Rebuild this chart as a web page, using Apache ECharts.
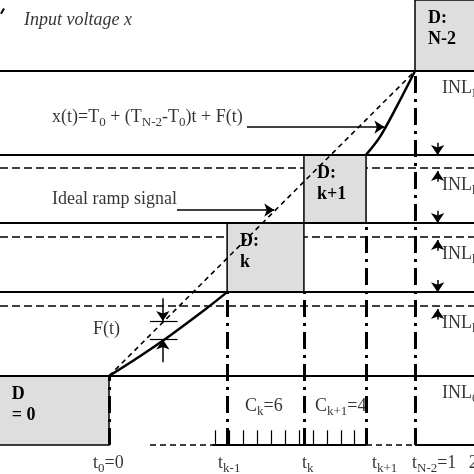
<!DOCTYPE html>
<html>
<head>
<meta charset="utf-8">
<script src="https://cdn.jsdelivr.net/npm/echarts@6/dist/echarts.min.js"></script>
<style>
html, body { margin: 0; padding: 0; background: #fff; }
#chart { width: 474px; height: 474px; }
</style>
</head>
<body>
<div id="chart"></div>
<script>
// time: t0 = 0 ... tN-2 = 1 ; voltage: T0 = 0 ... TN-2 = 1
var eventTimes = [0, 0.386, 0.637, 0.84, 1];
var eventLabels = ['t{s|0}=0', 't{s|k-1}', 't{s|k}', 't{s|k+1}', 't{s|N-2}=1'];
var eventTop = [0, 0.275, 0.275, 0.502, 1];
var thresholds = [0, 0.275, 0.502, 0.725, 1];
var idealLevels = [0.23, 0.456, 0.682];
var tickTimes = [0.346, 0.392, 0.438, 0.484, 0.529, 0.575, 0.621, 0.667, 0.712, 0.758, 0.801];
var rampLow = [[0, 0], [0.1, 0.064], [0.2, 0.133], [0.3, 0.207], [0.386, 0.275]];
var rampHigh = [[0.84, 0.725], [0.886, 0.785], [0.94, 0.883], [1, 1]];
var idealRamp = [[0, 0], [1, 1]];
var codeNames = ['D\n= 0', 'D:\nk', 'D:\nk+1', 'D:\nN-2'];
var codeStart = [-0.36, 0.386, 0.637, 1];
var codeEnd = [0, 0.637, 0.84, 1.25];
var codeLow = [-0.226, 0.275, 0.502, 1];
var codeHigh = [0, 0.502, 0.725, 1.233];
var inlNames = ['INL{s|N-2}', 'INL{s|k+1}', 'INL{s|k}', 'INL{s|k-1}', 'INL{s|0}'];
var fMark = [0.176, 0.18, 0.12]; // t, ideal, actual

// view range (whole picture is the plot area)
var X0 = -0.3562, X1 = 1.1928, Y0 = -0.3213, Y1 = 1.2328;
var base = -0.226;
var serif = '"Liberation Serif", "DejaVu Serif", serif';

function seg(a, b) { return { coords: [a, b] }; }

function linesSeries(data, style, z, extra) {
    var s = {
        type: 'lines', coordinateSystem: 'cartesian2d', silent: true, z: z, data: data,
        lineStyle: Object.assign({ color: '#000', width: 2, opacity: 1, type: 'solid', curveness: 0 }, style)
    };
    return Object.assign(s, extra || {});
}

var rich = {
    s: { fontSize: 13, fontFamily: serif, color: '#000', verticalAlign: 'bottom', lineHeight: 24 }
};

function textSeries(items, z) {
    return {
        type: 'scatter', symbolSize: 0, silent: true, z: z, data: items,
        label: {
            show: true, position: 'right', distance: 0, color: '#000',
            fontFamily: serif, fontSize: 18, lineHeight: 20,
            formatter: function (p) { return p.name; }, rich: rich
        }
    };
}

// free notes, placed in chart units
var notes = [
    { name: 'Input voltage x', value: [-0.278, 1.167], label: { fontStyle: 'italic' } },
    { name: 'x(t)=T{s|0} + (T{s|N-2}-T{s|0})t + F(t)', value: [-0.186, 0.849] },
    { name: 'Ideal ramp signal', value: [-0.186, 0.58] },
    { name: 'F(t)', value: [-0.052, 0.154] },
    { name: '2', value: [1.176, -0.285] }
];

var timeLabelDx = [-16, -9, -2, 6, -3];
var timeItems = eventLabels.map(function (s, i) {
    return { name: s, value: [eventTimes[i], base], label: { offset: [timeLabelDx[i], 18] } };
});

function countTicks(a, b) {
    return tickTimes.filter(function (t) { return t > a && t <= b; }).length;
}
var countItems = [
    { name: 'C{s|k}=' + countTicks(eventTimes[1], eventTimes[2]), value: [eventTimes[1], base], label: { offset: [18, -39] } },
    { name: 'C{s|k+1}=' + countTicks(eventTimes[2], eventTimes[3]), value: [eventTimes[2], base], label: { offset: [11, -39] } }
];

var inlT = 1.088, inlArrowT = 1.074;
var inlLevels = [thresholds[4], idealLevels[2], idealLevels[1], idealLevels[0], thresholds[0]];
var inlItems = inlNames.map(function (s, i) {
    return { name: s, value: [inlT, inlLevels[i]], label: { offset: [0, 17], fontSize: 18 } };
});

var arrows = [
    seg([0.451, 0.816], [0.9, 0.816]),
    seg([0.222, 0.544], [0.54, 0.544]),
    seg([fMark[0], fMark[1] + 0.075], [fMark[0], fMark[1]]),
    seg([fMark[0], fMark[2] - 0.075], [fMark[0], fMark[2]])
];
thresholds.slice(1, 4).forEach(function (v) { arrows.push(seg([inlArrowT, v + 0.04], [inlArrowT, v])); });
idealLevels.forEach(function (v) { arrows.push(seg([inlArrowT, v - 0.045], [inlArrowT, v - 0.01])); });

var chart = echarts.init(document.getElementById('chart'));
var option = {
    animation: false,
    backgroundColor: '#fff',
    grid: { left: 0, right: 0, top: 0, bottom: 0 },
    xAxis: { type: 'value', min: X0, max: X1, show: false },
    yAxis: { type: 'value', min: Y0, max: Y1, show: false },
    series: [
        // ideal code levels
        linesSeries(idealLevels.map(function (v) { return seg([X0, v], [X1, v]); }), { width: 1.5, type: [8, 4] }, 1),
        // code boxes
        {
            type: 'custom', coordinateSystem: 'cartesian2d', z: 2, silent: true,
            data: codeNames.map(function (n, i) { return [codeStart[i], codeEnd[i], codeLow[i], codeHigh[i]]; }),
            renderItem: function (params, api) {
                var a = api.coord([api.value(0), api.value(3)]);
                var b = api.coord([api.value(1), api.value(2)]);
                return {
                    type: 'group', children: [
                        { type: 'rect', shape: { x: a[0], y: a[1], width: b[0] - a[0], height: b[1] - a[1] },
                          style: { fill: '#dedede', stroke: '#000', lineWidth: 1.5 } },
                        { type: 'text', x: a[0] + 13, y: a[1] + 8,
                          style: { text: codeNames[params.dataIndex], fontFamily: serif, fontSize: 18, fontWeight: 'bold',
                                   lineHeight: 21, fill: '#000', align: 'left', verticalAlign: 'top' } }
                    ]
                };
            }
        },
        // code thresholds
        linesSeries(thresholds.map(function (v) { return seg([X0, v], [X1, v]); }), { width: 2 }, 3),
        // dash-dot event lines
        linesSeries(eventTimes.map(function (t, i) { return seg([t, base], [t, eventTop[i]]); }), { width: 3, type: [17, 6, 3, 6] }, 3),
        // time base
        linesSeries([seg([0.337, base], [0.84, base]), seg([1, base], [X1, base]), seg([-0.353, 1.188], [-0.343, 1.205])], { width: 2 }, 3),
        linesSeries([seg([0.134, base], [0.337, base]), seg([0.84, base], [1, base])], { width: 1.5, type: [6, 4] }, 3),
        // counter clock ticks
        linesSeries(tickTimes.map(function (t) { return seg([t, base], [t, base + 0.048]); }), { width: 1.2 }, 3),
        // F(t) bars
        linesSeries([seg([fMark[0] - 0.042, fMark[1]], [fMark[0] + 0.048, fMark[1]]),
                     seg([fMark[0] - 0.042, fMark[2]], [fMark[0] + 0.048, fMark[2]])], { width: 1.2 }, 5),
        // real input ramp
        { type: 'line', data: rampLow, smooth: 0.3, showSymbol: false, silent: true, z: 4,
          lineStyle: { color: '#000', width: 2.5 } },
        { type: 'line', data: rampHigh, smooth: 0.3, showSymbol: false, silent: true, z: 4,
          lineStyle: { color: '#000', width: 2.5 } },
        // ideal ramp
        { type: 'line', data: idealRamp, showSymbol: false, silent: true, z: 4,
          lineStyle: { color: '#000', width: 1.6, type: [5, 4] } },
        // arrows
        linesSeries(arrows, { width: 1.5 }, 5, { symbol: ['none', 'arrow'], symbolSize: [7, 10] }),
        // texts
        textSeries(notes, 6),
        textSeries(timeItems, 6),
        textSeries(countItems, 6),
        textSeries(inlItems, 6)
    ]
};
chart.setOption(option);
</script>
</body>
</html>
